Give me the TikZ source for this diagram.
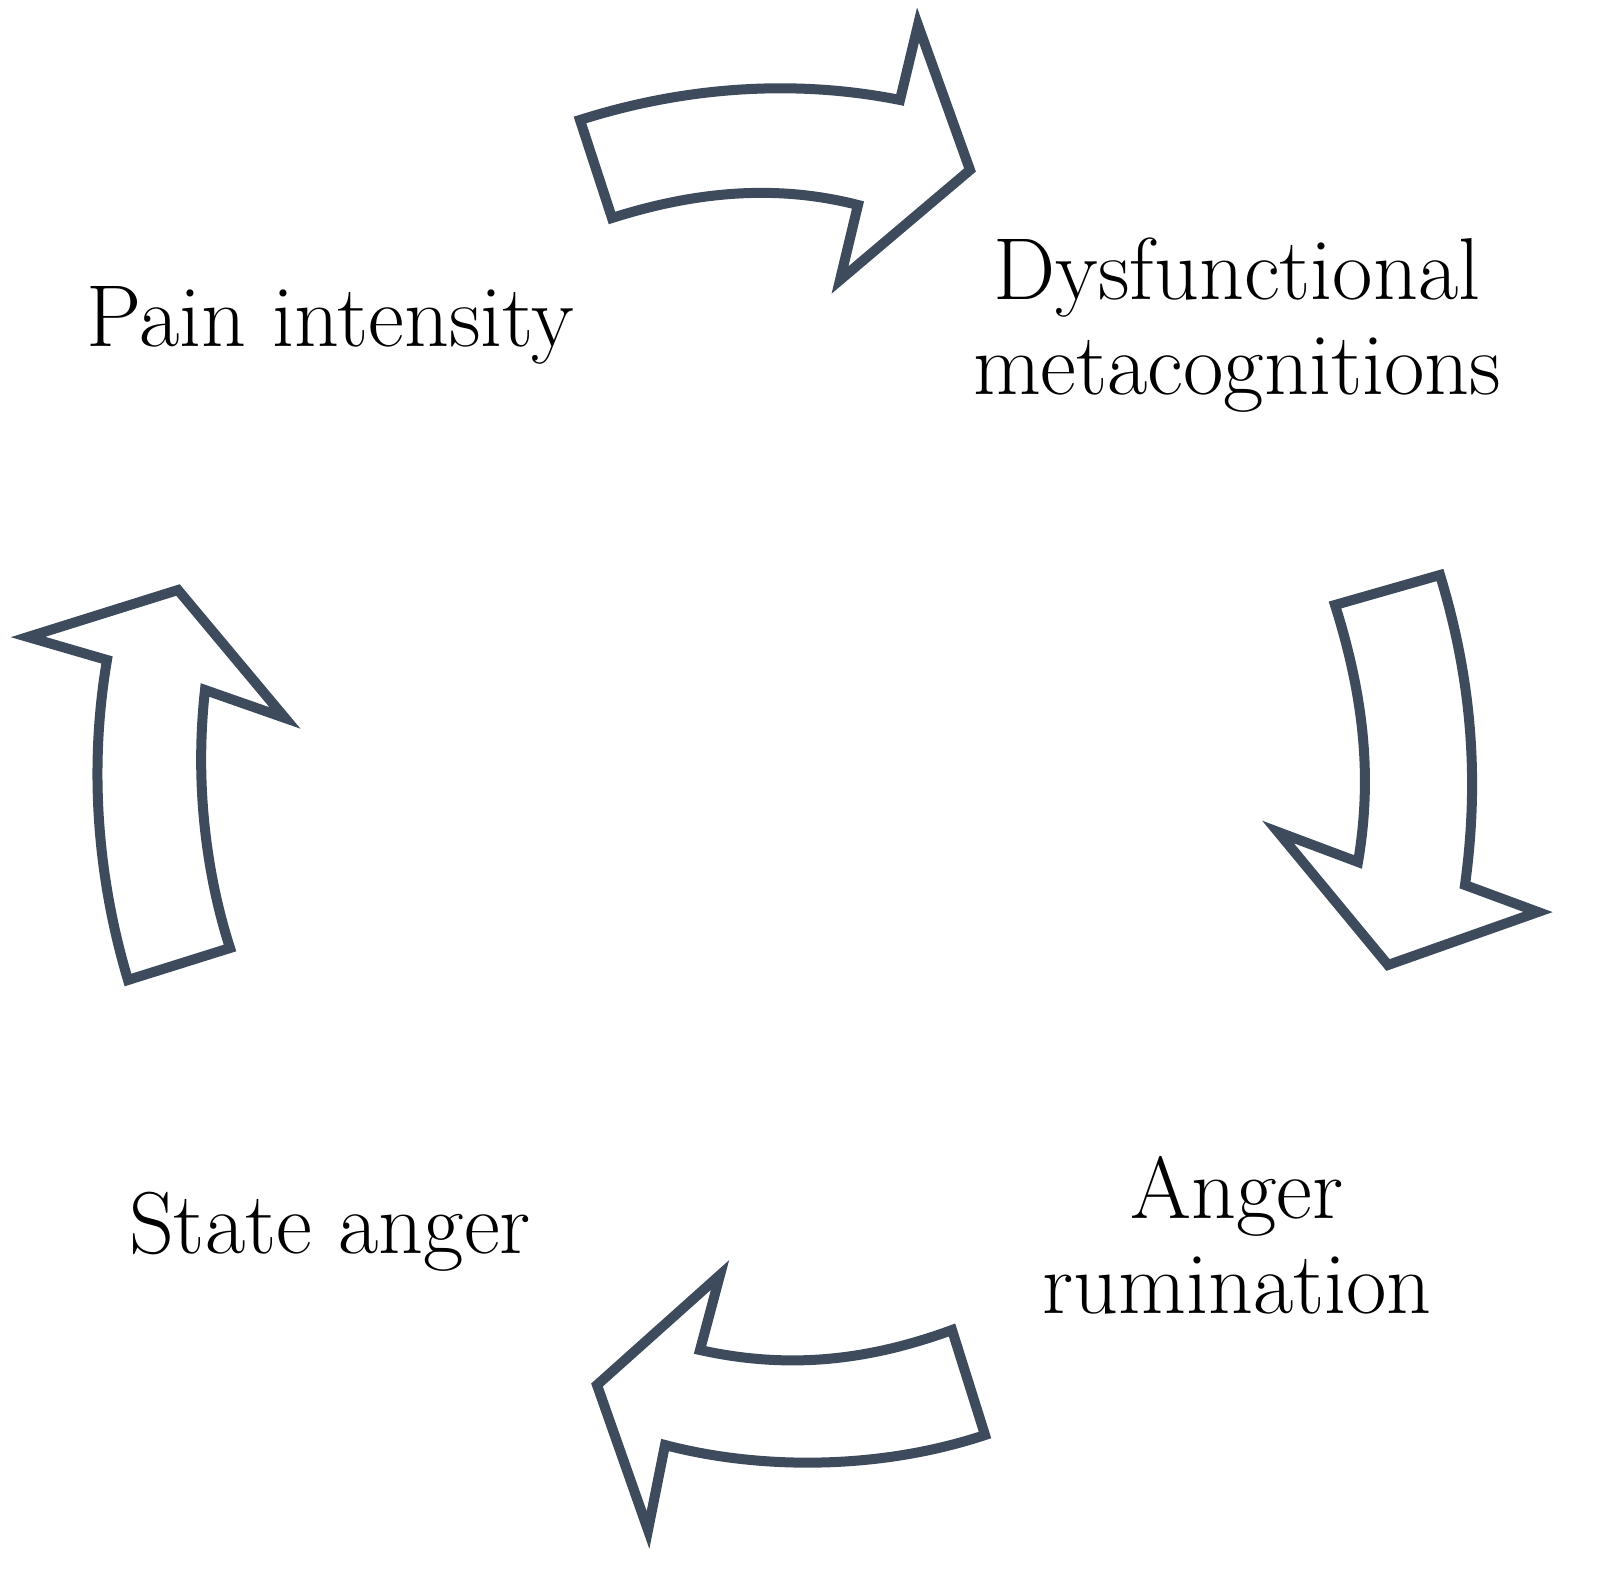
\documentclass[tikz,border=0pt]{standalone}
\begin{document}
\begin{tikzpicture}[x=0.1mm,y=-0.1mm,
  blk/.style={draw=arr,line width=1mm,line join=miter,fill=white},
  lbl/.style={font=\fontsize{25}{27}\selectfont,align=center}]
\definecolor{arr}{HTML}{3D4B5C}
\useasboundingbox (0,0) rectangle (1606,1587);
% top arrow
\draw[blk] (580,120) .. controls (690,85) and (800,80) .. (900,100) -- (918,25) -- (970,170) -- (840,280) -- (858,205)
  .. controls (780,185) and (700,190) .. (612,218) -- cycle;
% right arrow
\draw[blk] (1440,575) .. controls (1475,690) and (1478,790) .. (1465,885) -- (1538,912) -- (1388,965) -- (1278,832) -- (1358,862)
  .. controls (1372,780) and (1365,700) .. (1335,605) -- cycle;
% bottom arrow
\draw[blk] (985,1435) .. controls (880,1470) and (760,1470) .. (665,1445) -- (648,1530) -- (597,1385) -- (720,1275) -- (700,1350)
  .. controls (790,1370) and (870,1360) .. (952,1330) -- cycle;
% left arrow
\draw[blk] (128,980) .. controls (95,870) and (90,760) .. (107,660) -- (28,637) -- (178,590) -- (285,718) -- (205,690)
  .. controls (195,780) and (205,870) .. (230,948) -- cycle;
\node[lbl] (p) at (330,325) {Pain intensity};
\node[lbl] (d) at (1237,325) {Dysfunctional\\metacognitions};
\node[lbl] (a) at (1237,1235) {Anger\\rumination};
\node[lbl] (s) at (330,1232) {State anger};
\end{tikzpicture}
\end{document}
